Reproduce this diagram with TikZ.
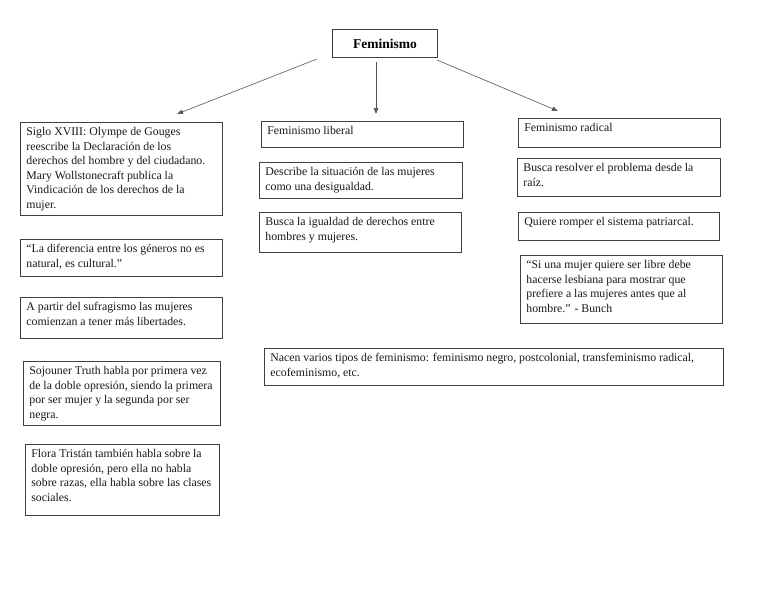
\documentclass[tikz,border=0pt]{standalone}
\usepackage{fontspec}
\setmainfont{Liberation Serif}
\usetikzlibrary{arrows.meta}
\definecolor{edge}{HTML}{404040}
\definecolor{arr}{HTML}{555555}
\newcommand\cbox[6]{%
  \node[cbox] (#1) at (#2,#3) {\parbox[c][\dimexpr#5pt-6pt\relax][t]{\dimexpr#4pt-12pt\relax}{\raggedright\strut #6}};}
\begin{document}
\begin{tikzpicture}[x=1pt,y=-1pt,
  cbox/.style={draw=edge, line width=0.8pt, anchor=north west, inner xsep=6pt, inner ysep=3pt, font=\fontsize{11.8}{14.5}\selectfont, text=black!90},
  topbox/.style={draw=edge, line width=0.8pt, anchor=north west, minimum width=105pt, minimum height=28pt, inner sep=0pt, font=\fontsize{13.5}{15}\selectfont\bfseries},
  conn/.style={draw=arr, line width=0.6pt, -{Triangle[length=6pt,width=4.5pt]}}]
\useasboundingbox (0,0) rectangle (768,594);
\fill[white] (0,0) rectangle (768,594);
\node[topbox] (fem) at (332,29) {Feminismo};
\coordinate (s1) at (317,59);
\coordinate (e1) at (177,114);
\coordinate (s2) at (376,62);
\coordinate (e2) at (376,114);
\coordinate (s3) at (437,60);
\coordinate (e3) at (558,111);
\draw[conn] (s1) -- (e1);
\draw[conn] (s2) -- (e2);
\draw[conn] (s3) -- (e3);
\cbox{siglo}{20}{122}{202}{93}{Siglo XVIII: Olympe de Gouges\\reescribe la Declaración de los\\derechos del hombre y del ciudadano.\\Mary Wollstonecraft publica la\\Vindicación de los derechos de la\\mujer.}
\cbox{dif}{20}{239}{202}{37}{“La diferencia entre los géneros no es\\natural, es cultural.”}
\cbox{part}{20}{297}{202}{41}{A partir del sufragismo las mujeres\\comienzan a tener más libertades.}
\cbox{soj}{23}{361}{197}{64}{Sojouner Truth habla por primera vez\\de la doble opresión, siendo la primera\\por ser mujer y la segunda por ser\\negra.}
\cbox{flora}{25}{444}{194}{71}{Flora Tristán también habla sobre la\\doble opresión, pero ella no habla\\sobre razas, ella habla sobre las clases\\sociales.}
\cbox{lib}{261}{121}{202}{26}{Feminismo liberal}
\cbox{desc}{259}{162}{203}{36}{Describe la situación de las mujeres\\como una desigualdad.}
\cbox{igual}{259}{212}{202}{40}{Busca la igualdad de derechos entre\\hombres y mujeres.}
\cbox{rad}{518}{118}{202}{29}{Feminismo radical}
\cbox{resol}{517}{158}{203}{38}{Busca resolver el problema desde la\\raíz.}
\cbox{romper}{518}{212}{201}{28}{Quiere romper el sistema patriarcal.}
\cbox{si}{520}{255}{202}{68}{“Si una mujer quiere ser libre debe\\hacerse lesbiana para mostrar que\\prefiere a las mujeres antes que al\\hombre.” - Bunch}
\cbox{nacen}{264}{348}{459}{37}{Nacen varios tipos de feminismo: feminismo negro, postcolonial, transfeminismo radical,\\ecofeminismo, etc.}
\end{tikzpicture}
\end{document}
